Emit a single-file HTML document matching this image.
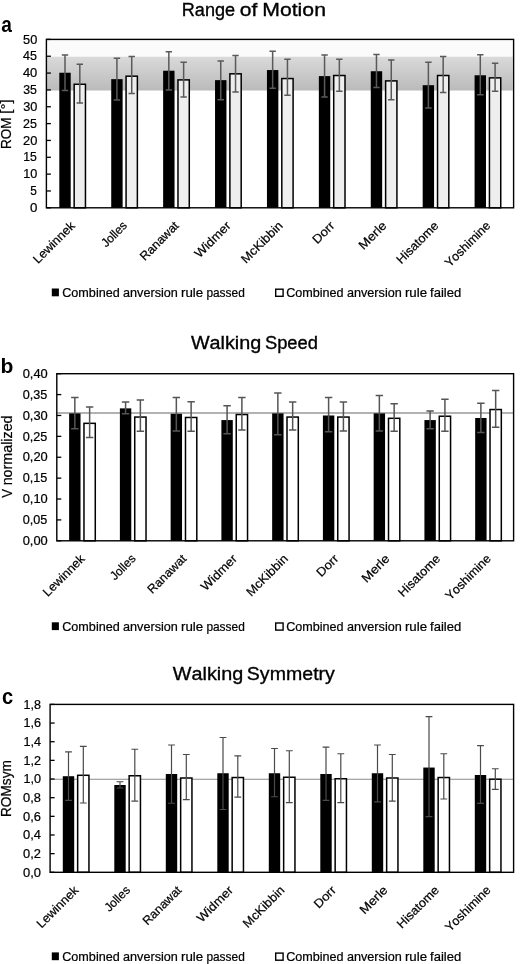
<!DOCTYPE html><html><head><meta charset="utf-8"><style>html,body{margin:0;padding:0;background:#fff;}svg{display:block;}text{font-family:'Liberation Sans', Arial, sans-serif;font-kerning:none;}</style></head><body>
<svg width="520" height="964" viewBox="0 0 520 964">
<defs><linearGradient id="band" x1="0" y1="0" x2="0" y2="1"><stop offset="0" stop-color="#dadada"/><stop offset="1" stop-color="#bababa"/></linearGradient></defs>
<rect width="520" height="964" fill="#fff"/>
<rect x="46.4" y="39.4" width="466.3" height="17.3" fill="#fbfbfb"/>
<rect x="46.4" y="56.7" width="466.3" height="33.8" fill="url(#band)"/>
<rect x="59.31" y="72.74" width="11.4" height="135.06" fill="#000"/>
<rect x="74.16" y="84.27" width="11.3" height="123.53" fill="#eeeeee" stroke="#000" stroke-width="1.5"/>
<rect x="111.22" y="79.14" width="11.4" height="128.66" fill="#000"/>
<rect x="126.07" y="76.19" width="11.3" height="131.61" fill="#eeeeee" stroke="#000" stroke-width="1.5"/>
<rect x="163.13" y="70.72" width="11.4" height="137.08" fill="#000"/>
<rect x="177.98" y="79.89" width="11.3" height="127.91" fill="#eeeeee" stroke="#000" stroke-width="1.5"/>
<rect x="215.04" y="80.15" width="11.4" height="127.65" fill="#000"/>
<rect x="229.89" y="73.83" width="11.3" height="133.97" fill="#eeeeee" stroke="#000" stroke-width="1.5"/>
<rect x="266.95" y="70.05" width="11.4" height="137.75" fill="#000"/>
<rect x="281.8" y="78.55" width="11.3" height="129.25" fill="#eeeeee" stroke="#000" stroke-width="1.5"/>
<rect x="318.86" y="76.11" width="11.4" height="131.69" fill="#000"/>
<rect x="333.71" y="75.51" width="11.3" height="132.29" fill="#eeeeee" stroke="#000" stroke-width="1.5"/>
<rect x="370.77" y="71.23" width="11.4" height="136.57" fill="#000"/>
<rect x="385.62" y="80.9" width="11.3" height="126.9" fill="#eeeeee" stroke="#000" stroke-width="1.5"/>
<rect x="422.68" y="85.2" width="11.4" height="122.6" fill="#000"/>
<rect x="437.53" y="75.51" width="11.3" height="132.29" fill="#eeeeee" stroke="#000" stroke-width="1.5"/>
<rect x="474.59" y="75.27" width="11.4" height="132.53" fill="#000"/>
<rect x="489.44" y="77.87" width="11.3" height="129.93" fill="#eeeeee" stroke="#000" stroke-width="1.5"/>
<path d="M65.01 54.89V90.59M61.81 54.89H68.21M61.81 90.59H68.21" stroke="#5a5a5a" stroke-width="1.5" fill="none"/>
<path d="M79.81 64.32V103.06M76.61 64.32H83.01M76.61 103.06H83.01" stroke="#5a5a5a" stroke-width="1.5" fill="none"/>
<path d="M116.92 58.26V100.02M113.72 58.26H120.12M113.72 100.02H120.12" stroke="#5a5a5a" stroke-width="1.5" fill="none"/>
<path d="M131.72 56.58V93.62M128.52 56.58H134.92M128.52 93.62H134.92" stroke="#5a5a5a" stroke-width="1.5" fill="none"/>
<path d="M168.83 51.69V89.92M165.63 51.69H172.03M165.63 89.92H172.03" stroke="#5a5a5a" stroke-width="1.5" fill="none"/>
<path d="M183.63 62.3V96.99M180.43 62.3H186.83M180.43 96.99H186.83" stroke="#5a5a5a" stroke-width="1.5" fill="none"/>
<path d="M220.74 60.96V99.69M217.54 60.96H223.94M217.54 99.69H223.94" stroke="#5a5a5a" stroke-width="1.5" fill="none"/>
<path d="M235.54 55.57V91.94M232.34 55.57H238.74M232.34 91.94H238.74" stroke="#5a5a5a" stroke-width="1.5" fill="none"/>
<path d="M272.65 51.19V88.24M269.45 51.19H275.85M269.45 88.24H275.85" stroke="#5a5a5a" stroke-width="1.5" fill="none"/>
<path d="M287.45 59.27V95.31M284.25 59.27H290.65M284.25 95.31H290.65" stroke="#5a5a5a" stroke-width="1.5" fill="none"/>
<path d="M324.56 54.89V96.99M321.36 54.89H327.76M321.36 96.99H327.76" stroke="#5a5a5a" stroke-width="1.5" fill="none"/>
<path d="M339.36 59.27V91.27M336.16 59.27H342.56M336.16 91.27H342.56" stroke="#5a5a5a" stroke-width="1.5" fill="none"/>
<path d="M376.47 54.39V87.56M373.27 54.39H379.67M373.27 87.56H379.67" stroke="#5a5a5a" stroke-width="1.5" fill="none"/>
<path d="M391.27 59.94V99.69M388.07 59.94H394.47M388.07 99.69H394.47" stroke="#5a5a5a" stroke-width="1.5" fill="none"/>
<path d="M428.38 62.3V108.11M425.18 62.3H431.58M425.18 108.11H431.58" stroke="#5a5a5a" stroke-width="1.5" fill="none"/>
<path d="M443.18 56.58V92.61M439.98 56.58H446.38M439.98 92.61H446.38" stroke="#5a5a5a" stroke-width="1.5" fill="none"/>
<path d="M480.29 54.72V94.8M477.09 54.72H483.49M477.09 94.8H483.49" stroke="#5a5a5a" stroke-width="1.5" fill="none"/>
<path d="M495.09 63.31V91.27M491.89 63.31H498.29M491.89 91.27H498.29" stroke="#5a5a5a" stroke-width="1.5" fill="none"/>
<rect x="46.4" y="39.4" width="467.2" height="168.4" fill="none" stroke="#000" stroke-width="1.4"/>
<line x1="46.4" x2="50.9" y1="207.8" y2="207.8" stroke="#000" stroke-width="1.3"/>
<line x1="46.4" x2="50.9" y1="190.96" y2="190.96" stroke="#000" stroke-width="1.3"/>
<line x1="46.4" x2="50.9" y1="174.12" y2="174.12" stroke="#000" stroke-width="1.3"/>
<line x1="46.4" x2="50.9" y1="157.28" y2="157.28" stroke="#000" stroke-width="1.3"/>
<line x1="46.4" x2="50.9" y1="140.44" y2="140.44" stroke="#000" stroke-width="1.3"/>
<line x1="46.4" x2="50.9" y1="123.6" y2="123.6" stroke="#000" stroke-width="1.3"/>
<line x1="46.4" x2="50.9" y1="106.76" y2="106.76" stroke="#000" stroke-width="1.3"/>
<line x1="46.4" x2="50.9" y1="89.92" y2="89.92" stroke="#000" stroke-width="1.3"/>
<line x1="46.4" x2="50.9" y1="73.08" y2="73.08" stroke="#000" stroke-width="1.3"/>
<line x1="46.4" x2="50.9" y1="56.24" y2="56.24" stroke="#000" stroke-width="1.3"/>
<line x1="46.4" x2="50.9" y1="39.4" y2="39.4" stroke="#000" stroke-width="1.3"/>
<text x="29.95" y="212" font-size="12.4" textLength="7.41" lengthAdjust="spacingAndGlyphs" fill="#000" stroke="#000" stroke-width="0.22">0</text>
<text x="30.26" y="195.16" font-size="12.4" textLength="6.61" lengthAdjust="spacingAndGlyphs" fill="#000" stroke="#000" stroke-width="0.22">5</text>
<text x="23.25" y="178.32" font-size="12.4" textLength="14.08" lengthAdjust="spacingAndGlyphs" fill="#000" stroke="#000" stroke-width="0.22">10</text>
<text x="23.29" y="161.48" font-size="12.4" textLength="13.6" lengthAdjust="spacingAndGlyphs" fill="#000" stroke="#000" stroke-width="0.22">15</text>
<text x="22.99" y="144.64" font-size="12.4" textLength="14.35" lengthAdjust="spacingAndGlyphs" fill="#000" stroke="#000" stroke-width="0.22">20</text>
<text x="23.01" y="127.8" font-size="12.4" textLength="13.89" lengthAdjust="spacingAndGlyphs" fill="#000" stroke="#000" stroke-width="0.22">25</text>
<text x="23.17" y="110.96" font-size="12.4" textLength="14.16" lengthAdjust="spacingAndGlyphs" fill="#000" stroke="#000" stroke-width="0.22">30</text>
<text x="23.19" y="94.12" font-size="12.4" textLength="13.7" lengthAdjust="spacingAndGlyphs" fill="#000" stroke="#000" stroke-width="0.22">35</text>
<text x="22.95" y="77.28" font-size="12.4" textLength="14.39" lengthAdjust="spacingAndGlyphs" fill="#000" stroke="#000" stroke-width="0.22">40</text>
<text x="22.96" y="60.44" font-size="12.4" textLength="13.94" lengthAdjust="spacingAndGlyphs" fill="#000" stroke="#000" stroke-width="0.22">45</text>
<text x="23.13" y="43.6" font-size="12.4" textLength="14.2" lengthAdjust="spacingAndGlyphs" fill="#000" stroke="#000" stroke-width="0.22">50</text>
<text transform="translate(75.86,226.4) rotate(-45)" x="-53.64" y="0" font-size="12.3" textLength="53.45" lengthAdjust="spacingAndGlyphs" stroke="#000" stroke-width="0.22">Lewinnek</text>
<text transform="translate(127.77,226.4) rotate(-45)" x="-30.34" y="0" font-size="12.3" textLength="30.3" lengthAdjust="spacingAndGlyphs" stroke="#000" stroke-width="0.22">Jolles</text>
<text transform="translate(179.68,226.4) rotate(-45)" x="-49.27" y="0" font-size="12.3" textLength="49.11" lengthAdjust="spacingAndGlyphs" stroke="#000" stroke-width="0.22">Ranawat</text>
<text transform="translate(231.59,226.4) rotate(-45)" x="-45.54" y="0" font-size="12.3" textLength="45.49" lengthAdjust="spacingAndGlyphs" stroke="#000" stroke-width="0.22">Widmer</text>
<text transform="translate(283.5,226.4) rotate(-45)" x="-53.01" y="0" font-size="12.3" textLength="53" lengthAdjust="spacingAndGlyphs" stroke="#000" stroke-width="0.22">McKibbin</text>
<text transform="translate(335.41,226.4) rotate(-45)" x="-25.62" y="0" font-size="12.3" textLength="25.57" lengthAdjust="spacingAndGlyphs" stroke="#000" stroke-width="0.22">Dorr</text>
<text transform="translate(387.32,226.4) rotate(-45)" x="-33.61" y="0" font-size="12.3" textLength="33.71" lengthAdjust="spacingAndGlyphs" stroke="#000" stroke-width="0.22">Merle</text>
<text transform="translate(439.23,226.4) rotate(-45)" x="-53.86" y="0" font-size="12.3" textLength="53.92" lengthAdjust="spacingAndGlyphs" stroke="#000" stroke-width="0.22">Hisatome</text>
<text transform="translate(491.14,226.4) rotate(-45)" x="-58.61" y="0" font-size="12.3" textLength="58.67" lengthAdjust="spacingAndGlyphs" stroke="#000" stroke-width="0.22">Yoshimine</text>
<text x="181.75" y="15.6" font-size="19.2" textLength="53.33" lengthAdjust="spacingAndGlyphs" fill="#000" stroke="#000" stroke-width="0.35">Range</text>
<text x="239.72" y="15.6" font-size="19.2" textLength="17.58" lengthAdjust="spacingAndGlyphs" fill="#000" stroke="#000" stroke-width="0.35">of</text>
<text x="262.26" y="15.6" font-size="19.2" textLength="63.69" lengthAdjust="spacingAndGlyphs" fill="#000" stroke="#000" stroke-width="0.35">Motion</text>
<text x="1.34" y="32.2" font-size="21.6" font-weight="bold" textLength="10.64" lengthAdjust="spacingAndGlyphs" fill="#000">a</text>
<g transform="translate(11.2,124.15) rotate(-90)"><text x="-24.89" y="0" font-size="14.1" textLength="31.58" lengthAdjust="spacingAndGlyphs" stroke="#000" stroke-width="0.22">ROM</text><text x="10.45" y="0" font-size="14.1" textLength="14.41" lengthAdjust="spacingAndGlyphs" stroke="#000" stroke-width="0.22">[°]</text></g>
<rect x="51.8" y="288.5" width="7.1" height="7.8" fill="#000"/>
<rect x="275.7" y="289.2" width="7.4" height="7.1" fill="#fff" stroke="#000" stroke-width="1.4"/>
<text x="62.26" y="297" font-size="12.6" textLength="57.48" lengthAdjust="spacingAndGlyphs" fill="#000" stroke="#000" stroke-width="0.22">Combined</text>
<text x="123.04" y="297" font-size="12.6" textLength="54.81" lengthAdjust="spacingAndGlyphs" fill="#000" stroke="#000" stroke-width="0.22">anversion</text>
<text x="181" y="297" font-size="12.6" textLength="22.19" lengthAdjust="spacingAndGlyphs" fill="#000" stroke="#000" stroke-width="0.22">rule</text>
<text x="206.39" y="297" font-size="12.6" textLength="38.39" lengthAdjust="spacingAndGlyphs" fill="#000" stroke="#000" stroke-width="0.22">passed</text>
<text x="286.16" y="297" font-size="12.6" textLength="57.48" lengthAdjust="spacingAndGlyphs" fill="#000" stroke="#000" stroke-width="0.22">Combined</text>
<text x="346.94" y="297" font-size="12.6" textLength="54.81" lengthAdjust="spacingAndGlyphs" fill="#000" stroke="#000" stroke-width="0.22">anversion</text>
<text x="404.9" y="297" font-size="12.6" textLength="22.19" lengthAdjust="spacingAndGlyphs" fill="#000" stroke="#000" stroke-width="0.22">rule</text>
<text x="430.09" y="297" font-size="12.6" textLength="31.17" lengthAdjust="spacingAndGlyphs" fill="#000" stroke="#000" stroke-width="0.22">failed</text>
<line x1="56.8" x2="513.6" y1="412.97" y2="412.97" stroke="#999999" stroke-width="1.5"/>
<rect x="69.13" y="413.39" width="11.4" height="127.41" fill="#000"/>
<rect x="83.98" y="423.33" width="11.3" height="117.47" fill="#ffffff" stroke="#000" stroke-width="1.5"/>
<rect x="119.88" y="408.37" width="11.4" height="132.43" fill="#000"/>
<rect x="134.73" y="417.06" width="11.3" height="123.74" fill="#ffffff" stroke="#000" stroke-width="1.5"/>
<rect x="170.64" y="413.8" width="11.4" height="127" fill="#000"/>
<rect x="185.49" y="417.48" width="11.3" height="123.32" fill="#ffffff" stroke="#000" stroke-width="1.5"/>
<rect x="221.39" y="420.07" width="11.4" height="120.73" fill="#000"/>
<rect x="236.24" y="414.55" width="11.3" height="126.25" fill="#ffffff" stroke="#000" stroke-width="1.5"/>
<rect x="272.15" y="413.39" width="11.4" height="127.41" fill="#000"/>
<rect x="287" y="417.06" width="11.3" height="123.74" fill="#ffffff" stroke="#000" stroke-width="1.5"/>
<rect x="322.91" y="415.48" width="11.4" height="125.32" fill="#000"/>
<rect x="337.76" y="417.06" width="11.3" height="123.74" fill="#ffffff" stroke="#000" stroke-width="1.5"/>
<rect x="373.66" y="413.39" width="11.4" height="127.41" fill="#000"/>
<rect x="388.51" y="418.31" width="11.3" height="122.49" fill="#ffffff" stroke="#000" stroke-width="1.5"/>
<rect x="424.42" y="420.07" width="11.4" height="120.73" fill="#000"/>
<rect x="439.27" y="416.23" width="11.3" height="124.57" fill="#ffffff" stroke="#000" stroke-width="1.5"/>
<rect x="475.17" y="417.98" width="11.4" height="122.82" fill="#000"/>
<rect x="490.02" y="409.54" width="11.3" height="131.26" fill="#ffffff" stroke="#000" stroke-width="1.5"/>
<path d="M74.83 397.51V428.84M71.13 397.51H78.53M71.13 428.84H78.53" stroke="#555555" stroke-width="1.5" fill="none"/>
<path d="M89.63 407.12V437.62M85.93 407.12H93.33M85.93 437.62H93.33" stroke="#555555" stroke-width="1.5" fill="none"/>
<path d="M125.58 402.11V413.8M121.88 402.11H129.28M121.88 413.8H129.28" stroke="#555555" stroke-width="1.5" fill="none"/>
<path d="M140.38 400.02V431.35M136.68 400.02H144.08M136.68 431.35H144.08" stroke="#555555" stroke-width="1.5" fill="none"/>
<path d="M176.34 397.51V430.93M172.64 397.51H180.04M172.64 430.93H180.04" stroke="#555555" stroke-width="1.5" fill="none"/>
<path d="M191.14 401.69V431.35M187.44 401.69H194.84M187.44 431.35H194.84" stroke="#555555" stroke-width="1.5" fill="none"/>
<path d="M227.09 405.87V433.86M223.39 405.87H230.79M223.39 433.86H230.79" stroke="#555555" stroke-width="1.5" fill="none"/>
<path d="M241.89 397.51V430.1M238.19 397.51H245.59M238.19 430.1H245.59" stroke="#555555" stroke-width="1.5" fill="none"/>
<path d="M277.85 392.92V434.69M274.15 392.92H281.55M274.15 434.69H281.55" stroke="#555555" stroke-width="1.5" fill="none"/>
<path d="M292.65 402.11V430.1M288.95 402.11H296.35M288.95 430.1H296.35" stroke="#555555" stroke-width="1.5" fill="none"/>
<path d="M328.61 397.51V431.77M324.91 397.51H332.31M324.91 431.77H332.31" stroke="#555555" stroke-width="1.5" fill="none"/>
<path d="M343.41 402.11V430.93M339.71 402.11H347.11M339.71 430.93H347.11" stroke="#555555" stroke-width="1.5" fill="none"/>
<path d="M379.36 395.42V430.93M375.66 395.42H383.06M375.66 430.93H383.06" stroke="#555555" stroke-width="1.5" fill="none"/>
<path d="M394.16 403.78V431.35M390.46 403.78H397.86M390.46 431.35H397.86" stroke="#555555" stroke-width="1.5" fill="none"/>
<path d="M430.12 410.88V428.84M426.42 410.88H433.82M426.42 428.84H433.82" stroke="#555555" stroke-width="1.5" fill="none"/>
<path d="M444.92 399.18V431.35M441.22 399.18H448.62M441.22 431.35H448.62" stroke="#555555" stroke-width="1.5" fill="none"/>
<path d="M480.87 403.36V432.6M477.17 403.36H484.57M477.17 432.6H484.57" stroke="#555555" stroke-width="1.5" fill="none"/>
<path d="M495.67 390.41V427.17M491.97 390.41H499.37M491.97 427.17H499.37" stroke="#555555" stroke-width="1.5" fill="none"/>
<rect x="56.8" y="373.7" width="456.8" height="167.1" fill="none" stroke="#000" stroke-width="1.4"/>
<line x1="56.8" x2="61.3" y1="540.8" y2="540.8" stroke="#000" stroke-width="1.3"/>
<line x1="56.8" x2="61.3" y1="519.91" y2="519.91" stroke="#000" stroke-width="1.3"/>
<line x1="56.8" x2="61.3" y1="499.02" y2="499.02" stroke="#000" stroke-width="1.3"/>
<line x1="56.8" x2="61.3" y1="478.14" y2="478.14" stroke="#000" stroke-width="1.3"/>
<line x1="56.8" x2="61.3" y1="457.25" y2="457.25" stroke="#000" stroke-width="1.3"/>
<line x1="56.8" x2="61.3" y1="436.36" y2="436.36" stroke="#000" stroke-width="1.3"/>
<line x1="56.8" x2="61.3" y1="415.47" y2="415.47" stroke="#000" stroke-width="1.3"/>
<line x1="56.8" x2="61.3" y1="394.59" y2="394.59" stroke="#000" stroke-width="1.3"/>
<line x1="56.8" x2="61.3" y1="373.7" y2="373.7" stroke="#000" stroke-width="1.3"/>
<text x="22.68" y="545" font-size="12.4" textLength="25.06" lengthAdjust="spacingAndGlyphs" fill="#000" stroke="#000" stroke-width="0.22">0,00</text>
<text x="22.69" y="524.11" font-size="12.4" textLength="24.62" lengthAdjust="spacingAndGlyphs" fill="#000" stroke="#000" stroke-width="0.22">0,05</text>
<text x="22.68" y="503.22" font-size="12.4" textLength="25.06" lengthAdjust="spacingAndGlyphs" fill="#000" stroke="#000" stroke-width="0.22">0,10</text>
<text x="22.69" y="482.34" font-size="12.4" textLength="24.62" lengthAdjust="spacingAndGlyphs" fill="#000" stroke="#000" stroke-width="0.22">0,15</text>
<text x="22.68" y="461.45" font-size="12.4" textLength="25.06" lengthAdjust="spacingAndGlyphs" fill="#000" stroke="#000" stroke-width="0.22">0,20</text>
<text x="22.69" y="440.56" font-size="12.4" textLength="24.62" lengthAdjust="spacingAndGlyphs" fill="#000" stroke="#000" stroke-width="0.22">0,25</text>
<text x="22.68" y="419.67" font-size="12.4" textLength="25.06" lengthAdjust="spacingAndGlyphs" fill="#000" stroke="#000" stroke-width="0.22">0,30</text>
<text x="22.69" y="398.79" font-size="12.4" textLength="24.62" lengthAdjust="spacingAndGlyphs" fill="#000" stroke="#000" stroke-width="0.22">0,35</text>
<text x="22.68" y="377.9" font-size="12.4" textLength="25.06" lengthAdjust="spacingAndGlyphs" fill="#000" stroke="#000" stroke-width="0.22">0,40</text>
<text transform="translate(85.68,559.4) rotate(-45)" x="-53.64" y="0" font-size="12.3" textLength="53.45" lengthAdjust="spacingAndGlyphs" stroke="#000" stroke-width="0.22">Lewinnek</text>
<text transform="translate(136.43,559.4) rotate(-45)" x="-30.34" y="0" font-size="12.3" textLength="30.3" lengthAdjust="spacingAndGlyphs" stroke="#000" stroke-width="0.22">Jolles</text>
<text transform="translate(187.19,559.4) rotate(-45)" x="-49.27" y="0" font-size="12.3" textLength="49.11" lengthAdjust="spacingAndGlyphs" stroke="#000" stroke-width="0.22">Ranawat</text>
<text transform="translate(237.94,559.4) rotate(-45)" x="-45.54" y="0" font-size="12.3" textLength="45.49" lengthAdjust="spacingAndGlyphs" stroke="#000" stroke-width="0.22">Widmer</text>
<text transform="translate(288.7,559.4) rotate(-45)" x="-53.01" y="0" font-size="12.3" textLength="53" lengthAdjust="spacingAndGlyphs" stroke="#000" stroke-width="0.22">McKibbin</text>
<text transform="translate(339.46,559.4) rotate(-45)" x="-25.62" y="0" font-size="12.3" textLength="25.57" lengthAdjust="spacingAndGlyphs" stroke="#000" stroke-width="0.22">Dorr</text>
<text transform="translate(390.21,559.4) rotate(-45)" x="-33.61" y="0" font-size="12.3" textLength="33.71" lengthAdjust="spacingAndGlyphs" stroke="#000" stroke-width="0.22">Merle</text>
<text transform="translate(440.97,559.4) rotate(-45)" x="-53.86" y="0" font-size="12.3" textLength="53.92" lengthAdjust="spacingAndGlyphs" stroke="#000" stroke-width="0.22">Hisatome</text>
<text transform="translate(491.72,559.4) rotate(-45)" x="-58.61" y="0" font-size="12.3" textLength="58.67" lengthAdjust="spacingAndGlyphs" stroke="#000" stroke-width="0.22">Yoshimine</text>
<text x="190.92" y="348.8" font-size="19.2" textLength="70.37" lengthAdjust="spacingAndGlyphs" fill="#000" stroke="#000" stroke-width="0.35">Walking</text>
<text x="264.91" y="348.8" font-size="19.2" textLength="53.07" lengthAdjust="spacingAndGlyphs" fill="#000" stroke="#000" stroke-width="0.35">Speed</text>
<text x="0.51" y="372.9" font-size="21" font-weight="bold" textLength="12.85" lengthAdjust="spacingAndGlyphs" fill="#000">b</text>
<g transform="translate(11.8,457) rotate(-90)"><text x="-40.69" y="0" font-size="14.1" textLength="8.76" lengthAdjust="spacingAndGlyphs" stroke="#000" stroke-width="0.22">V</text><text x="-28.35" y="0" font-size="14.1" textLength="69.9" lengthAdjust="spacingAndGlyphs" stroke="#000" stroke-width="0.22">normalized</text></g>
<rect x="51.8" y="622.3" width="7.1" height="7.8" fill="#000"/>
<rect x="275.7" y="623" width="7.4" height="7.1" fill="#fff" stroke="#000" stroke-width="1.4"/>
<text x="62.26" y="630.8" font-size="12.6" textLength="57.48" lengthAdjust="spacingAndGlyphs" fill="#000" stroke="#000" stroke-width="0.22">Combined</text>
<text x="123.04" y="630.8" font-size="12.6" textLength="54.81" lengthAdjust="spacingAndGlyphs" fill="#000" stroke="#000" stroke-width="0.22">anversion</text>
<text x="181" y="630.8" font-size="12.6" textLength="22.19" lengthAdjust="spacingAndGlyphs" fill="#000" stroke="#000" stroke-width="0.22">rule</text>
<text x="206.39" y="630.8" font-size="12.6" textLength="38.39" lengthAdjust="spacingAndGlyphs" fill="#000" stroke="#000" stroke-width="0.22">passed</text>
<text x="286.16" y="630.8" font-size="12.6" textLength="57.48" lengthAdjust="spacingAndGlyphs" fill="#000" stroke="#000" stroke-width="0.22">Combined</text>
<text x="346.94" y="630.8" font-size="12.6" textLength="54.81" lengthAdjust="spacingAndGlyphs" fill="#000" stroke="#000" stroke-width="0.22">anversion</text>
<text x="404.9" y="630.8" font-size="12.6" textLength="22.19" lengthAdjust="spacingAndGlyphs" fill="#000" stroke="#000" stroke-width="0.22">rule</text>
<text x="430.09" y="630.8" font-size="12.6" textLength="31.17" lengthAdjust="spacingAndGlyphs" fill="#000" stroke="#000" stroke-width="0.22">failed</text>
<line x1="50.1" x2="513.6" y1="779.3" y2="779.3" stroke="#8a8a8a" stroke-width="1.1"/>
<rect x="62.8" y="776.22" width="11.4" height="96.08" fill="#000"/>
<rect x="77.65" y="775.29" width="11.3" height="97.01" fill="#ffffff" stroke="#000" stroke-width="1.5"/>
<rect x="114.3" y="784.99" width="11.4" height="87.31" fill="#000"/>
<rect x="129.15" y="775.76" width="11.3" height="96.54" fill="#ffffff" stroke="#000" stroke-width="1.5"/>
<rect x="165.8" y="773.99" width="11.4" height="98.31" fill="#000"/>
<rect x="180.65" y="778" width="11.3" height="94.3" fill="#ffffff" stroke="#000" stroke-width="1.5"/>
<rect x="217.3" y="773.24" width="11.4" height="99.06" fill="#000"/>
<rect x="232.15" y="777.53" width="11.3" height="94.77" fill="#ffffff" stroke="#000" stroke-width="1.5"/>
<rect x="268.8" y="773.24" width="11.4" height="99.06" fill="#000"/>
<rect x="283.65" y="777.25" width="11.3" height="95.05" fill="#ffffff" stroke="#000" stroke-width="1.5"/>
<rect x="320.3" y="773.99" width="11.4" height="98.31" fill="#000"/>
<rect x="335.15" y="778.75" width="11.3" height="93.55" fill="#ffffff" stroke="#000" stroke-width="1.5"/>
<rect x="371.8" y="773.24" width="11.4" height="99.06" fill="#000"/>
<rect x="386.65" y="778" width="11.3" height="94.3" fill="#ffffff" stroke="#000" stroke-width="1.5"/>
<rect x="423.3" y="767.55" width="11.4" height="104.75" fill="#000"/>
<rect x="438.15" y="777.53" width="11.3" height="94.77" fill="#ffffff" stroke="#000" stroke-width="1.5"/>
<rect x="474.8" y="775.01" width="11.4" height="97.29" fill="#000"/>
<rect x="489.65" y="779.21" width="11.3" height="93.09" fill="#ffffff" stroke="#000" stroke-width="1.5"/>
<path d="M68.5 751.79V800.29M65.1 751.79H71.9M65.1 800.29H71.9" stroke="#4a4a4a" stroke-width="1.2" fill="none"/>
<path d="M83.3 746.28V802.99M79.9 746.28H86.7M79.9 802.99H86.7" stroke="#4a4a4a" stroke-width="1.2" fill="none"/>
<path d="M120 781.73V787.98M116.6 781.73H123.4M116.6 787.98H123.4" stroke="#4a4a4a" stroke-width="1.2" fill="none"/>
<path d="M134.8 749.27V801.04M131.4 749.27H138.2M131.4 801.04H138.2" stroke="#4a4a4a" stroke-width="1.2" fill="none"/>
<path d="M171.5 744.98V803.27M168.1 744.98H174.9M168.1 803.27H174.9" stroke="#4a4a4a" stroke-width="1.2" fill="none"/>
<path d="M186.3 754.49V799.54M182.9 754.49H189.7M182.9 799.54H189.7" stroke="#4a4a4a" stroke-width="1.2" fill="none"/>
<path d="M223 737.51V809.52M219.6 737.51H226.4M219.6 809.52H226.4" stroke="#4a4a4a" stroke-width="1.2" fill="none"/>
<path d="M237.8 755.8V797.21M234.4 755.8H241.2M234.4 797.21H241.2" stroke="#4a4a4a" stroke-width="1.2" fill="none"/>
<path d="M274.5 748.52V796.75M271.1 748.52H277.9M271.1 796.75H277.9" stroke="#4a4a4a" stroke-width="1.2" fill="none"/>
<path d="M289.3 750.76V802.53M285.9 750.76H292.7M285.9 802.53H292.7" stroke="#4a4a4a" stroke-width="1.2" fill="none"/>
<path d="M326 747.03V800.29M322.6 747.03H329.4M322.6 800.29H329.4" stroke="#4a4a4a" stroke-width="1.2" fill="none"/>
<path d="M340.8 753.74V802.53M337.4 753.74H344.2M337.4 802.53H344.2" stroke="#4a4a4a" stroke-width="1.2" fill="none"/>
<path d="M377.5 744.98V801.78M374.1 744.98H380.9M374.1 801.78H380.9" stroke="#4a4a4a" stroke-width="1.2" fill="none"/>
<path d="M392.3 754.49V801.04M388.9 754.49H395.7M388.9 801.04H395.7" stroke="#4a4a4a" stroke-width="1.2" fill="none"/>
<path d="M429 716.71V816.71M425.6 716.71H432.4M425.6 816.71H432.4" stroke="#4a4a4a" stroke-width="1.2" fill="none"/>
<path d="M443.8 753.74V798.98M440.4 753.74H447.2M440.4 798.98H447.2" stroke="#4a4a4a" stroke-width="1.2" fill="none"/>
<path d="M480.5 745.72V803.46M477.1 745.72H483.9M477.1 803.46H483.9" stroke="#4a4a4a" stroke-width="1.2" fill="none"/>
<path d="M495.3 768.76V789.47M491.9 768.76H498.7M491.9 789.47H498.7" stroke="#4a4a4a" stroke-width="1.2" fill="none"/>
<rect x="50.1" y="704.4" width="463.5" height="167.9" fill="none" stroke="#000" stroke-width="1.4"/>
<line x1="50.1" x2="54.6" y1="872.3" y2="872.3" stroke="#000" stroke-width="1.3"/>
<line x1="50.1" x2="54.6" y1="853.64" y2="853.64" stroke="#000" stroke-width="1.3"/>
<line x1="50.1" x2="54.6" y1="834.99" y2="834.99" stroke="#000" stroke-width="1.3"/>
<line x1="50.1" x2="54.6" y1="816.33" y2="816.33" stroke="#000" stroke-width="1.3"/>
<line x1="50.1" x2="54.6" y1="797.68" y2="797.68" stroke="#000" stroke-width="1.3"/>
<line x1="50.1" x2="54.6" y1="779.02" y2="779.02" stroke="#000" stroke-width="1.3"/>
<line x1="50.1" x2="54.6" y1="760.37" y2="760.37" stroke="#000" stroke-width="1.3"/>
<line x1="50.1" x2="54.6" y1="741.71" y2="741.71" stroke="#000" stroke-width="1.3"/>
<line x1="50.1" x2="54.6" y1="723.06" y2="723.06" stroke="#000" stroke-width="1.3"/>
<line x1="50.1" x2="54.6" y1="704.4" y2="704.4" stroke="#000" stroke-width="1.3"/>
<text x="23.07" y="876.5" font-size="12.4" textLength="17.97" lengthAdjust="spacingAndGlyphs" fill="#000" stroke="#000" stroke-width="0.22">0,0</text>
<text x="23.08" y="857.84" font-size="12.4" textLength="17.88" lengthAdjust="spacingAndGlyphs" fill="#000" stroke="#000" stroke-width="0.22">0,2</text>
<text x="23.07" y="839.19" font-size="12.4" textLength="17.97" lengthAdjust="spacingAndGlyphs" fill="#000" stroke="#000" stroke-width="0.22">0,4</text>
<text x="23.07" y="820.53" font-size="12.4" textLength="17.91" lengthAdjust="spacingAndGlyphs" fill="#000" stroke="#000" stroke-width="0.22">0,6</text>
<text x="23.08" y="801.88" font-size="12.4" textLength="17.82" lengthAdjust="spacingAndGlyphs" fill="#000" stroke="#000" stroke-width="0.22">0,8</text>
<text x="23.46" y="783.22" font-size="12.4" textLength="17.57" lengthAdjust="spacingAndGlyphs" fill="#000" stroke="#000" stroke-width="0.22">1,0</text>
<text x="23.47" y="764.57" font-size="12.4" textLength="17.47" lengthAdjust="spacingAndGlyphs" fill="#000" stroke="#000" stroke-width="0.22">1,2</text>
<text x="23.46" y="745.91" font-size="12.4" textLength="17.58" lengthAdjust="spacingAndGlyphs" fill="#000" stroke="#000" stroke-width="0.22">1,4</text>
<text x="23.47" y="727.26" font-size="12.4" textLength="17.5" lengthAdjust="spacingAndGlyphs" fill="#000" stroke="#000" stroke-width="0.22">1,6</text>
<text x="23.47" y="708.6" font-size="12.4" textLength="17.41" lengthAdjust="spacingAndGlyphs" fill="#000" stroke="#000" stroke-width="0.22">1,8</text>
<text transform="translate(79.35,890.9) rotate(-45)" x="-53.64" y="0" font-size="12.3" textLength="53.45" lengthAdjust="spacingAndGlyphs" stroke="#000" stroke-width="0.22">Lewinnek</text>
<text transform="translate(130.85,890.9) rotate(-45)" x="-30.34" y="0" font-size="12.3" textLength="30.3" lengthAdjust="spacingAndGlyphs" stroke="#000" stroke-width="0.22">Jolles</text>
<text transform="translate(182.35,890.9) rotate(-45)" x="-49.27" y="0" font-size="12.3" textLength="49.11" lengthAdjust="spacingAndGlyphs" stroke="#000" stroke-width="0.22">Ranawat</text>
<text transform="translate(233.85,890.9) rotate(-45)" x="-45.54" y="0" font-size="12.3" textLength="45.49" lengthAdjust="spacingAndGlyphs" stroke="#000" stroke-width="0.22">Widmer</text>
<text transform="translate(285.35,890.9) rotate(-45)" x="-53.01" y="0" font-size="12.3" textLength="53" lengthAdjust="spacingAndGlyphs" stroke="#000" stroke-width="0.22">McKibbin</text>
<text transform="translate(336.85,890.9) rotate(-45)" x="-25.62" y="0" font-size="12.3" textLength="25.57" lengthAdjust="spacingAndGlyphs" stroke="#000" stroke-width="0.22">Dorr</text>
<text transform="translate(388.35,890.9) rotate(-45)" x="-33.61" y="0" font-size="12.3" textLength="33.71" lengthAdjust="spacingAndGlyphs" stroke="#000" stroke-width="0.22">Merle</text>
<text transform="translate(439.85,890.9) rotate(-45)" x="-53.86" y="0" font-size="12.3" textLength="53.92" lengthAdjust="spacingAndGlyphs" stroke="#000" stroke-width="0.22">Hisatome</text>
<text transform="translate(491.35,890.9) rotate(-45)" x="-58.61" y="0" font-size="12.3" textLength="58.67" lengthAdjust="spacingAndGlyphs" stroke="#000" stroke-width="0.22">Yoshimine</text>
<text x="172.88" y="680.2" font-size="19.2" textLength="70.37" lengthAdjust="spacingAndGlyphs" fill="#000" stroke="#000" stroke-width="0.35">Walking</text>
<text x="246.82" y="680.2" font-size="19.2" textLength="88.06" lengthAdjust="spacingAndGlyphs" fill="#000" stroke="#000" stroke-width="0.35">Symmetry</text>
<text x="2.12" y="703.5" font-size="21.2" font-weight="bold" textLength="11.17" lengthAdjust="spacingAndGlyphs" fill="#000">c</text>
<g transform="translate(11.2,788.45) rotate(-90)"><text x="-28.59" y="0" font-size="14.1" textLength="56.95" lengthAdjust="spacingAndGlyphs" stroke="#000" stroke-width="0.22">ROMsym</text></g>
<rect x="51.8" y="952.4" width="7.1" height="7.8" fill="#000"/>
<rect x="275.7" y="953.1" width="7.4" height="7.1" fill="#fff" stroke="#000" stroke-width="1.4"/>
<text x="62.26" y="960.9" font-size="12.6" textLength="57.48" lengthAdjust="spacingAndGlyphs" fill="#000" stroke="#000" stroke-width="0.22">Combined</text>
<text x="123.04" y="960.9" font-size="12.6" textLength="54.81" lengthAdjust="spacingAndGlyphs" fill="#000" stroke="#000" stroke-width="0.22">anversion</text>
<text x="181" y="960.9" font-size="12.6" textLength="22.19" lengthAdjust="spacingAndGlyphs" fill="#000" stroke="#000" stroke-width="0.22">rule</text>
<text x="206.39" y="960.9" font-size="12.6" textLength="38.39" lengthAdjust="spacingAndGlyphs" fill="#000" stroke="#000" stroke-width="0.22">passed</text>
<text x="286.16" y="960.9" font-size="12.6" textLength="57.48" lengthAdjust="spacingAndGlyphs" fill="#000" stroke="#000" stroke-width="0.22">Combined</text>
<text x="346.94" y="960.9" font-size="12.6" textLength="54.81" lengthAdjust="spacingAndGlyphs" fill="#000" stroke="#000" stroke-width="0.22">anversion</text>
<text x="404.9" y="960.9" font-size="12.6" textLength="22.19" lengthAdjust="spacingAndGlyphs" fill="#000" stroke="#000" stroke-width="0.22">rule</text>
<text x="430.09" y="960.9" font-size="12.6" textLength="31.17" lengthAdjust="spacingAndGlyphs" fill="#000" stroke="#000" stroke-width="0.22">failed</text>
</svg></body></html>
